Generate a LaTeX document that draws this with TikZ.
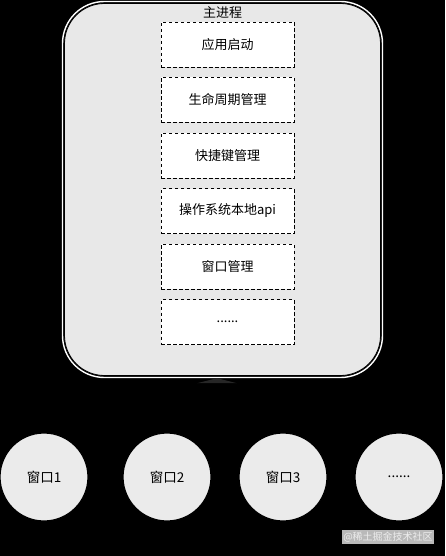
\documentclass[tikz,border=0pt]{standalone}
\usepackage{fontspec}
\setmainfont{Liberation Sans}
\newfontfamily\cjk{Noto Sans CJK SC}
\usetikzlibrary{arrows.meta}
\definecolor{panel}{HTML}{E8E8E8}
\definecolor{circfill}{HTML}{EBEBEB}
\definecolor{tipgray}{HTML}{262626}
\tikzset{
  modbox/.style={draw=black, fill=white, dashed, dash pattern=on 3.5pt off 2.5pt, line width=0.9pt,
    minimum width=133pt, minimum height=45pt, inner sep=0pt, font=\cjk\fontsize{13}{15}\selectfont},
  win/.style={circle, draw=black, fill=circfill, line width=1.2pt, minimum size=88pt, inner sep=0pt,
    font=\cjk\fontsize{13.5}{15}\selectfont},
}
\begin{document}
\begin{tikzpicture}[x=1pt,y=-1pt]
\fill[black] (0,0) rectangle (445,556);
\useasboundingbox (0,0) rectangle (445,556);
% main process panel
\node[draw=white, line width=1.4pt, rounded corners=42pt, minimum width=320pt, minimum height=376pt, inner sep=0pt] (mainouter) at (222.5,189.5) {};
\node[draw=black, fill=panel, line width=0.8pt, rounded corners=40pt, minimum width=316pt, minimum height=372pt, inner sep=0pt] (main) at (222.5,189.5) {};
\node[font=\cjk\fontsize{13}{15}\selectfont] (title) at (222.5,12.5) {主进程};
% modules
\node[modbox] (m1) at (227.5,44.5) {应用启动};
\node[modbox] (m2) at (227.5,100) {生命周期管理};
\node[modbox] (m3) at (227.5,155.5) {快捷键管理};
\node[modbox] (m4) at (227.5,211) {操作系统本地api};
\node[modbox] (m5) at (227.5,266.5) {窗口管理};
\node[modbox] (m6) at (227.5,322) {......};
% arrow into main
\coordinate (src) at (217,425);
\draw[black, line width=1pt, -{Triangle[length=5pt, width=40pt, fill=tipgray, color=tipgray]}] (src) -- (mainouter.south -| src);
% windows
\node[win] (w1) at (44,477) {窗口1};
\node[win] (w2) at (167,477) {窗口2};
\node[win] (w3) at (283,477) {窗口3};
\node[win] (w4) at (399,477) {......};
% watermark
\node[fill=gray!55, text=white!85!gray, inner sep=1.5pt, font=\cjk\fontsize{10}{11}\selectfont] (wm) at (388,537) {@稀土掘金技术社区};
\end{tikzpicture}
\end{document}
